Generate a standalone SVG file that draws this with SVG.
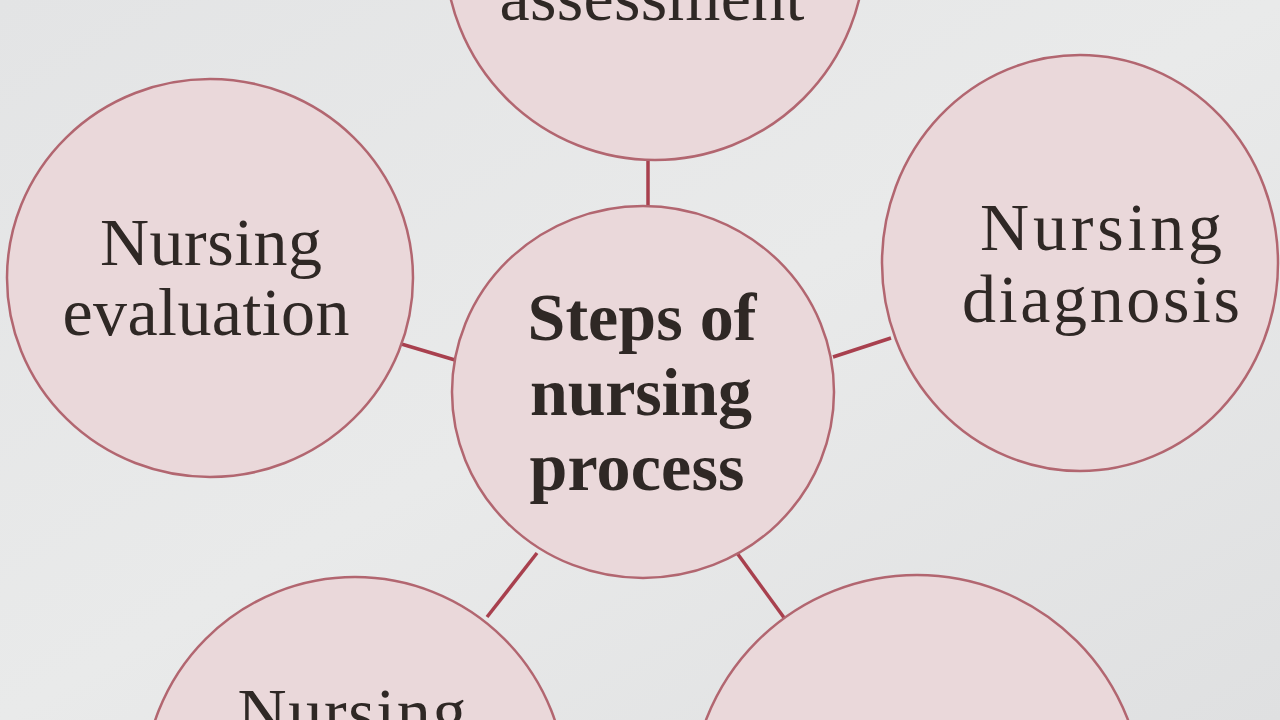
<svg xmlns="http://www.w3.org/2000/svg" width="1280" height="720" viewBox="0 0 1280 720">
<defs>
<linearGradient id="bg" x1="0" y1="0" x2="1" y2="1">
<stop offset="0" stop-color="#e3e4e5"/>
<stop offset="0.5" stop-color="#e9eaea"/>
<stop offset="1" stop-color="#dfe0e1"/>
</linearGradient>
</defs>
<style>
.node ellipse{fill:#ead8da;stroke:#b26670;stroke-width:2.5}
.lbl{font-family:"Liberation Serif","Times New Roman",serif;font-size:68px;fill:#2f2825;text-anchor:middle}
.bold{font-weight:bold}
.conn line{stroke:#a8404e;stroke-width:3.5}
</style>
<rect width="1280" height="720" fill="url(#bg)"/>
<g class="conn">
<line x1="648" y1="160" x2="648" y2="208"/>
<line x1="398" y1="343" x2="455" y2="360"/>
<line x1="833" y1="357" x2="891" y2="338"/>
<line x1="537" y1="553" x2="487" y2="617"/>
<line x1="737" y1="553" x2="785" y2="619"/>
</g>
<g id="node-assessment" class="node">
<ellipse cx="655" cy="-50" rx="210" ry="210"/>
<text class="lbl" x="652" y="20" textLength="305" lengthAdjust="spacing">assessment</text>
</g>
<g id="node-evaluation" class="node">
<ellipse cx="210" cy="278" rx="203" ry="199"/>
<text class="lbl" x="211" y="265" textLength="222" lengthAdjust="spacing">Nursing</text>
<text class="lbl" x="206" y="335" textLength="287" lengthAdjust="spacing">evaluation</text>
</g>
<g id="node-diagnosis" class="node">
<ellipse cx="1080" cy="263" rx="198" ry="208"/>
<text class="lbl" x="1101" y="250" textLength="242" lengthAdjust="spacing">Nursing</text>
<text class="lbl" x="1101" y="322" textLength="278" lengthAdjust="spacing">diagnosis</text>
</g>
<g id="node-center" class="node">
<ellipse cx="643" cy="392" rx="191" ry="186"/>
<text class="lbl bold" x="642" y="340" textLength="229" lengthAdjust="spacing">Steps of</text>
<text class="lbl bold" x="641" y="415" textLength="222" lengthAdjust="spacing">nursing</text>
<text class="lbl bold" x="637" y="490" textLength="215" lengthAdjust="spacing">process</text>
</g>
<g id="node-bottom-left" class="node">
<ellipse cx="355" cy="788" rx="211" ry="211"/>
<text class="lbl" x="352" y="735" textLength="229" lengthAdjust="spacing">Nursing</text>
</g>
<g id="node-bottom-right" class="node">
<ellipse cx="917" cy="801" rx="226" ry="226"/>
</g>
</svg>
